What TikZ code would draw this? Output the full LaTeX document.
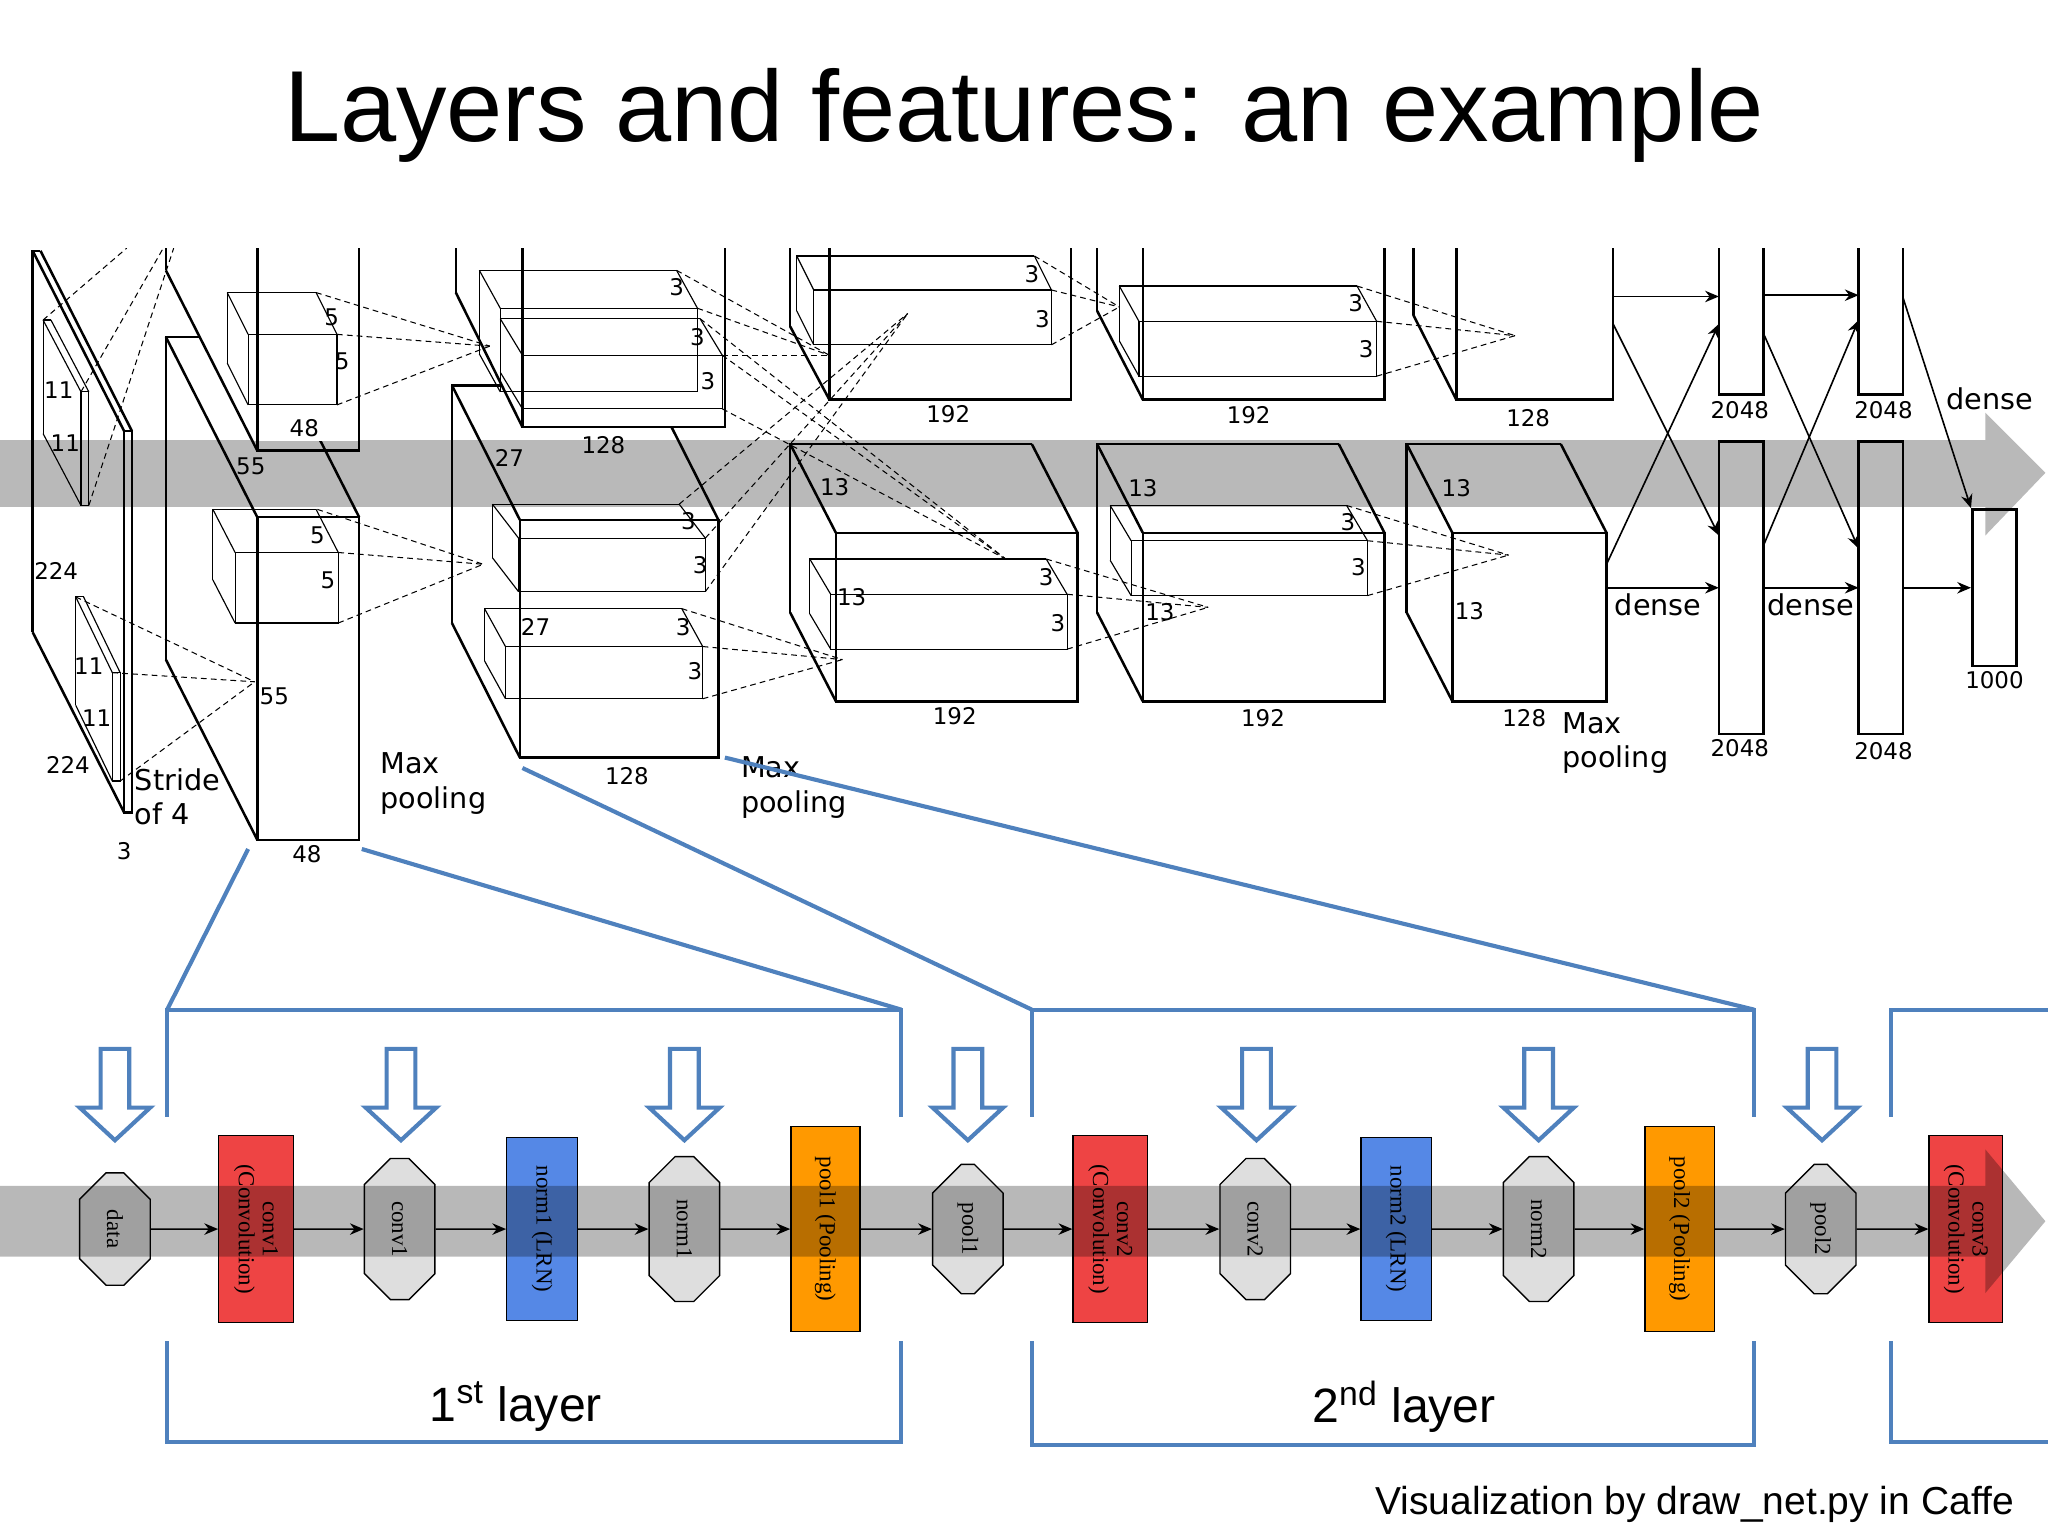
\documentclass[tikz,border=0pt]{standalone}
\usepackage{fontspec}
\setmainfont{Liberation Sans}
\newfontfamily\djv{DejaVu Sans}
\newfontfamily\tms{Liberation Serif}
\usetikzlibrary{shapes.misc,arrows.meta}
\definecolor{bl}{RGB}{79,129,189}
\definecolor{rd}{RGB}{238,68,68}
\definecolor{nb}{RGB}{85,136,230}
\definecolor{og}{RGB}{255,153,0}
\definecolor{ocf}{RGB}{222,222,222}
\definecolor{band}{RGB}{185,185,185}
\newcommand\cub[7][]{%
 \draw[#1] (#2,#3) rectangle (#4,#5);
 \draw[#1] ({#2-#6},{#5-#7}) -- ({#2-#6},{#3-#7}) -- ({#4-#6},{#3-#7});
 \draw[#1] ({#2-#6},{#3-#7}) -- (#2,#3) ({#4-#6},{#3-#7}) -- (#4,#3) ({#2-#6},{#5-#7}) -- (#2,#5);}
\newcommand\cubfill[6]{%
 \begin{scope}\clip (0,0) rectangle (1568,337);
 \fill[white] ({#1-#5},{#2-#6}) -- ({#3-#5},{#2-#6}) -- (#3,#2) -- (#3,#4) -- (#1,#4) -- ({#1-#5},{#4-#6}) -- cycle;
 \end{scope}}
\newcommand\fan[2]{\foreach \p in {#1}{\draw[dl] \p -- #2;}}
\begin{document}
\begin{tikzpicture}[x=0.02cm,y=-0.02cm,
 thk/.style={line width=1.1pt},
 thn/.style={line width=0.5pt},
 dl/.style={line width=0.45pt,dash pattern=on 2.5pt off 1.8pt},
 lb/.style={font=\djv\fontsize{10}{11}\selectfont,inner sep=0pt},
 ml/.style={font=\djv\fontsize{12.5}{15}\selectfont,inner sep=0pt,align=left,anchor=west},
 rect/.style={draw,line width=0.6pt,rotate=-90,align=center,font=\tms\fontsize{10}{10.5}\selectfont,inner sep=0pt},
 oct/.style={draw,line width=0.6pt,fill=ocf,chamfered rectangle,rotate=-90,minimum height=1.08cm,chamfered rectangle xsep=0.44cm,chamfered rectangle ysep=0.28cm,font=\tms\fontsize{10}{10.5}\selectfont,inner sep=0pt},
 ar/.style={-{Stealth[length=6pt,width=5pt]},line width=0.7pt},
 bll/.style={bl,line width=1.8pt},
 hol/.style={bl,line width=1.8pt,fill=white}]
\useasboundingbox (0,0) rectangle (1568,1176);
\node[font=\fontsize{44}{52}\selectfont] (title) at (784,88) {Layers and features: an example};
% top band
\fill[band] (0,337) -- (1520,337) -- (1520,316) -- (1566,362) -- (1520,410) -- (1520,388) -- (0,388) -- cycle;
\begin{scope}
\clip (0,190) rectangle (1568,700);
\cub[thk]{95}{330}{101}{622}{70}{138}
\cub[thk]{197}{396}{275}{643}{70}{138}
\cub[thk]{398}{398}{550}{580}{52}{103}
\cubfill{197}{70}{275}{345}{70}{138}
\cub[thk]{197}{70}{275}{345}{70}{138}
\cubfill{400}{70}{555}{327}{51}{103}
\cub[thk]{400}{70}{555}{327}{51}{103}
\cub[thk]{635}{70}{820}{306}{30}{56}
\cub[thk]{640}{408}{825}{537}{35}{68}
\cub[thk]{875}{70}{1060}{306}{35}{68}
\cub[thk]{875}{408}{1060}{537}{35}{68}
\cub[thk]{1115}{70}{1235}{306}{33}{65}
\cub[thk]{1112}{408}{1230}{537}{35}{68}
\cub[thn]{62}{300}{68}{387}{29}{55}
\cub[thn]{86}{515}{92}{598}{28}{58}
\cub[thn]{190}{256}{258}{310}{16}{32}
\cub[thn]{180}{423}{259}{477}{17}{33}
\cub[thn]{383}{236}{534}{300}{16}{29}
\cub[thn]{400}{272}{553}{313}{17}{28}
\cub[thn]{397}{412}{540}{453}{20}{26}
\cub[thn]{387}{495}{538}{535}{16}{29}
\cub[thn]{623}{222}{805}{264}{13}{26}
\cub[thn]{636}{455}{817}{497}{16}{27}
\cub[thn]{872}{246}{1054}{288}{15}{27}
\cub[thn]{866}{414}{1047}{456}{16}{27}
\draw[dl] (33,245) -- (97,190) (62,300) -- (125,190) (68,387) -- (133,190);
\fan{(58,457),(86,515),(92,598)}{(195,522)}
\fan{(242,224),(258,256),(258,310)}{(375,265)}
\fan{(243,390),(259,423),(259,477)}{(370,432)}
\fan{(518,207),(534,236),(553,272)}{(635,272)}
\fan{(536,244),(553,272),(553,313)}{(770,428)}
\fan{(520,386),(540,412),(540,453)}{(695,240)}
\fan{(522,466),(538,495),(538,535)}{(645,505)}
\fan{(792,196),(805,222),(805,264)}{(857,235)}
\fan{(801,428),(817,455),(817,497)}{(925,465)}
\fan{(1039,219),(1054,246),(1054,288)}{(1160,257)}
\fan{(1031,387),(1047,414),(1047,456)}{(1155,425)}
% dense
\draw[thk] (1316,190) -- (1316,302) -- (1350,302) -- (1350,190);
\draw[thk] (1423,190) -- (1423,302) -- (1457,302) -- (1457,190);
\end{scope}
\node[draw,thk,minimum width=0.68cm,minimum height=4.48cm] (d1) at (1333,450) {};
\node[draw,thk,minimum width=0.68cm,minimum height=4.48cm] (d2) at (1440,450) {};
\node[draw,thk,minimum width=0.68cm,minimum height=2.4cm] (out) at (1527,450) {};
\coordinate (u1) at (1316,227); \coordinate (u2) at (1423,226);
\coordinate (c5a) at (1235,227); \coordinate (c5b) at (1235,248);
\coordinate (c5c) at (1230,432); \coordinate (c5d) at (1230,450);
\coordinate (u1a) at (1350,226); \coordinate (u1b) at (1350,255);
\coordinate (u2a) at (1457,228);
\draw[ar] (c5a) -- (u1);
\draw[ar] (c5b) -- (1316,410);
\draw[ar] (c5c) -- (1316,248);
\draw[ar] (c5d) -- (1316,450);
\draw[ar] (u1a) -- (u2);
\draw[ar] (u1b) -- (1423,420);
\draw[ar] (1350,418) -- (1423,245);
\draw[ar] (1350,450) -- (1423,450);
\draw[ar] (u2a) -- (out.north west);
\draw[ar] (1457,450) -- (out.west);
% labels
\foreach \x/\y/\t in {45/299/11,50/339/11,68/510/11,74/550/11,43/437/224,52/586/224,95/652/3,
 254/243/5,262/277/5,243/410/5,251/444/5,233/328/48,192/357/55,210/533/55,235/654/48,
 518/220/3,534/258/3,542/292/3,527/399/3,536/433/3,523/480/3,532/514/3,390/351/27,410/480/27,462/341/128,480/594/128,
 790/210/3,798/244/3,801/442/3,810/477/3,639/373/13,652/457/13,726/317/192,731/548/192,
 1038/232/3,1046/267/3,1032/400/3,1040/434/3,875/374/13,888/469/13,956/318/192,967/550/192,
 1115/374/13,1125/468/13,1170/320/128,1167/550/128,
 1332/314/2048,1442/314/2048,1332/573/2048,1442/575/2048,1527/521/1000}
 {\node[lb] at (\x,\y) {\t};}
\node[ml] at (103,610) {Stride\\of 4};
\node[ml] at (291,600) {Max\\pooling};
\node[ml] at (567,603) {Max\\pooling};
\node[ml] at (1196,569) {Max\\pooling};
\node[ml] at (1236,463) {dense};
\node[ml] at (1353,463) {dense};
\node[ml] at (1490,305) {dense};
% zoom lines
\draw[bll] (190,650) -- (128,773);
\draw[bll] (277,650) -- (690,773);
\draw[bll] (400,588) -- (790,773);
\draw[bll] (555,580) -- (1343,773);
% brackets
\draw[bll] (128,855) -- (128,773) -- (690,773) -- (690,855);
\draw[bll] (790,855) -- (790,773) -- (1343,773) -- (1343,855);
\draw[bll] (1448,855) -- (1448,773) -- (1568,773);
\draw[bll] (128,1027) -- (128,1104) -- (690,1104) -- (690,1027);
\draw[bll] (790,1027) -- (790,1106) -- (1343,1106) -- (1343,1027);
\draw[bll] (1448,1027) -- (1448,1104) -- (1568,1104);
\node[font=\fontsize{21}{24}\selectfont] (l1) at (395,1077) {1\textsuperscript{st} layer};
\node[font=\fontsize{21}{24}\selectfont] (l2) at (1075,1077) {2\textsuperscript{nd} layer};
% hollow arrows
\foreach \c in {88,307,524,741,962,1178,1395}
 \draw[hol] (\c-11,803) -- (\c+11,803) -- (\c+11,848) -- (\c+27,848) -- (\c,873) -- (\c-27,848) -- (\c-11,848) -- cycle;
% nodes
\node[oct,minimum width=1.72cm] (data) at (88,941) {data};
\node[rect,fill=rd,minimum width=2.86cm,minimum height=1.14cm] (conv1) at (196,941) {conv1\\(Convolution)};
\node[oct,minimum width=2.16cm] (c1) at (306,941) {conv1};
\node[rect,fill=nb,minimum width=2.8cm,minimum height=1.08cm] (norm1) at (415,941) {norm1 (LRN)};
\node[oct,minimum width=2.22cm] (n1) at (524,941) {norm1};
\node[rect,fill=og,minimum width=3.14cm,minimum height=1.06cm] (pool1) at (632,941) {pool1 (Pooling)};
\node[oct,minimum width=1.98cm] (p1) at (741,941) {pool1};
\node[rect,fill=rd,minimum width=2.86cm,minimum height=1.14cm] (conv2) at (850,941) {conv2\\(Convolution)};
\node[oct,minimum width=2.16cm] (c2) at (961,941) {conv2};
\node[rect,fill=nb,minimum width=2.8cm,minimum height=1.08cm] (norm2) at (1069,941) {norm2 (LRN)};
\node[oct,minimum width=2.22cm] (n2) at (1178,941) {norm2};
\node[rect,fill=og,minimum width=3.14cm,minimum height=1.06cm] (pool2) at (1286,941) {pool2 (Pooling)};
\node[oct,minimum width=1.98cm] (p2) at (1394,941) {pool2};
\node[rect,fill=rd,minimum width=2.86cm,minimum height=1.12cm] (conv3) at (1505,941) {conv3\\(Convolution)};
\foreach \a/\b in {data/conv1,conv1/c1,c1/norm1,norm1/n1,n1/pool1,pool1/p1,p1/conv2,conv2/c2,c2/norm2,norm2/n2,n2/pool2,pool2/p2,p2/conv3}
 \draw[ar] (\a) -- (\b);
% bottom band overlay
\fill[black,opacity=0.28] (0,908) -- (1520,908) -- (1520,880) -- (1566,935) -- (1520,990) -- (1520,962) -- (0,962) -- cycle;
\node[font=\fontsize{17}{20}\selectfont,anchor=east] (foot) at (1548,1152) {Visualization by draw\_net.py in Caffe};
\end{tikzpicture}
\end{document}
